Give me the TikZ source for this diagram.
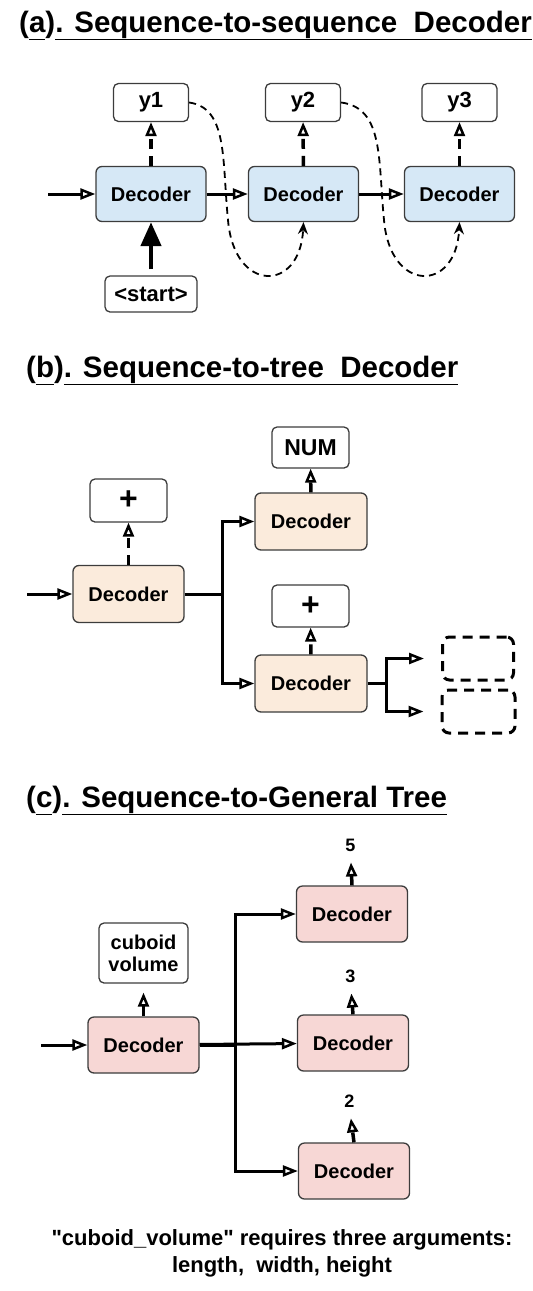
\documentclass[tikz,border=0pt]{standalone}
\usepackage{fontspec}
\setmainfont{Liberation Sans}
\usepackage{tikz}
\usetikzlibrary{arrows.meta}
\usepackage{xcolor}

\definecolor{edgegray}{RGB}{60,60,60}
\definecolor{decblue}{RGB}{214,232,246}
\definecolor{decpeach}{RGB}{251,235,220}
\definecolor{decpink}{RGB}{247,215,213}

\newcommand{\fsz}[1]{\fontsize{#1}{#1}\selectfont\bfseries}
\newcommand{\titleline}[1]{\underline{\vphantom{(}#1}}

\begin{document}
\begin{tikzpicture}[x=1pt, y=-1pt,
    dec/.style={draw=edgegray, line width=1.3pt, rounded corners=6pt, inner sep=0pt,
        minimum width=110pt, minimum height=55pt, font=\fsz{20}},
    outbox/.style={draw=edgegray, line width=1.3pt, rounded corners=5pt, fill=white, inner sep=0pt,
        minimum width=75pt, minimum height=38pt, font=\fsz{22}},
    ghost/.style={draw, line width=3pt, dash pattern=on 10pt off 7pt, rounded corners=7pt,
        minimum width=71pt, minimum height=43pt},
    ttl/.style={anchor=base west, inner sep=0pt, font=\fsz{29.5}},
    flow/.style={line width=3pt, -{Triangle[open, length=15pt, width=11pt, line width=2.5pt]}},
    outarr/.style={line width=3.5pt, dash pattern=on 10pt off 7pt,
        -{Triangle[open, length=14pt, width=11pt, line width=2.5pt]}},
    feed/.style={line width=1.8pt, dash pattern=on 7pt off 5pt, -{Stealth[length=12pt, width=10pt]}}]
    \useasboundingbox (0,0) rectangle (533,1291);

    % (a)
    \node[ttl] (ta) at (19,32) {(\titleline{a})\titleline{. Sequence-to-sequence\ \ Decoder}};

    \node[dec, fill=decblue] (da1) at (151,194) {Decoder};
    \node[dec, fill=decblue] (da2) at (303.5,194) {Decoder};
    \node[dec, fill=decblue] (da3) at (459.5,194) {Decoder};
    \node[outbox] (ya1) at (151,102.5) {y1};
    \node[outbox] (ya2) at (303,102.5) {y2};
    \node[outbox] (ya3) at (459.5,102.5) {y3};
    \node[outbox, minimum width=92pt, minimum height=36pt] (st) at (151,294) {<start>};
    \coordinate (ina) at (48,194);

    \draw[flow] (ina) -- (da1);
    \draw[flow] (da1) -- (da2);
    \draw[flow] (da2) -- (da3);
    \draw[outarr] (da1) -- (ya1);
    \draw[outarr] (da2) -- (ya2);
    \draw[outarr] (da3) -- (ya3);
    \draw[line width=4.5pt, shorten <=6pt, -{Triangle[length=24pt, width=20pt]}] (st) -- (da1);
    \draw[feed] (ya1.east) .. controls (228,108) and (222,160) .. (228,220)
        .. controls (234,293) and (300,293) .. (da2.south);
    \draw[feed] (ya2.east) .. controls (384,108) and (378,160) .. (384,220)
        .. controls (390,293) and (456,293) .. (da3.south);

    % (b)
    \node[ttl] (tb) at (26,377) {(\titleline{b})\titleline{. Sequence-to-tree\ \ Decoder}};

    \node[dec, fill=decpeach, minimum width=111pt, minimum height=57pt] (db1) at (128.5,594) {Decoder};
    \node[dec, fill=decpeach, minimum width=112pt, minimum height=57pt] (db2) at (311,521.5) {Decoder};
    \node[dec, fill=decpeach, minimum width=112pt, minimum height=57pt] (db3) at (311,683.5) {Decoder};
    \node[outbox, minimum width=77pt, minimum height=43pt, font=\fsz{32}] (pl1) at (128.5,500.5) {+};
    \node[outbox, minimum width=77pt, minimum height=41pt, font=\fsz{23}] (num) at (310.5,447.5) {NUM};
    \node[outbox, minimum width=77pt, minimum height=42pt, font=\fsz{32}] (pl2) at (310.5,606) {+};
    \node[ghost] (g1) at (478,658.5) {};
    \node[ghost, minimum width=73pt] (g2) at (478.5,711.5) {};
    \coordinate (inb) at (27,594);
    \coordinate (jb1) at (222,594);
    \coordinate (jb2) at (386,683.5);

    \draw[flow] (inb) -- (db1);
    \draw[line width=3pt] (db1) -- (jb1);
    \draw[flow] (jb1) |- (db2);
    \draw[flow] (jb1) |- (db3);
    \draw[outarr] (db1) -- (pl1);
    \draw[outarr] (db2) -- (num);
    \draw[outarr] (db3) -- (pl2);
    \draw[line width=3pt] (db3) -- (jb2);
    \draw[flow, shorten >=17pt] (jb2) |- (g1);
    \draw[flow, shorten >=17pt] (jb2) |- (g2);

    % (c)
    \node[ttl] (tc) at (26,807) {(\titleline{c})\titleline{. Sequence-to-General Tree}};

    \node[dec, fill=decpink, minimum width=111pt, minimum height=56pt] (dc1) at (143.5,1045) {Decoder};
    \node[dec, fill=decpink, minimum width=111pt, minimum height=56pt] (dc2) at (352,914) {Decoder};
    \node[dec, fill=decpink, minimum width=111pt, minimum height=56pt] (dc3) at (353,1043) {Decoder};
    \node[dec, fill=decpink, minimum width=111pt, minimum height=56pt] (dc4) at (354,1171) {Decoder};
    \node[outbox, minimum width=89pt, minimum height=60pt, font=\fsz{20}, align=center] (cub) at (143.5,953)
        {cuboid\\[2pt]volume};
    \node[inner sep=0pt, font=\fsz{18}] (n5) at (350.5,845) {5};
    \node[inner sep=0pt, font=\fsz{18}] (n3) at (350.5,976) {3};
    \node[inner sep=0pt, font=\fsz{18}] (n2) at (349.5,1101) {2};
    \coordinate (inc) at (41,1045);
    \coordinate (jc) at (235.5,1045);

    \draw[flow] (inc) -- (dc1);
    \draw[flow] (dc1) -- (dc3);
    \draw[line width=4pt] (dc1) -- (jc);
    \draw[flow] (jc) |- (dc2);
    \draw[flow] (jc) |- (dc4);
    \draw[outarr, shorten >=9pt] (dc1) -- (cub);
    \draw[outarr, shorten >=11pt] (dc2.north) -- (n5.south);
    \draw[outarr, shorten >=11pt] (dc3.north) -- (n3.south);
    \draw[outarr, shorten >=11pt] (dc4.north) -- (n2.south);

    \node[align=center, font=\fsz{22}] (cap) at (282,1253)
        {\textquotedbl cuboid\_volume\textquotedbl{} requires three arguments:\\[5pt] length,\ \ width, height};
\end{tikzpicture}
\end{document}
